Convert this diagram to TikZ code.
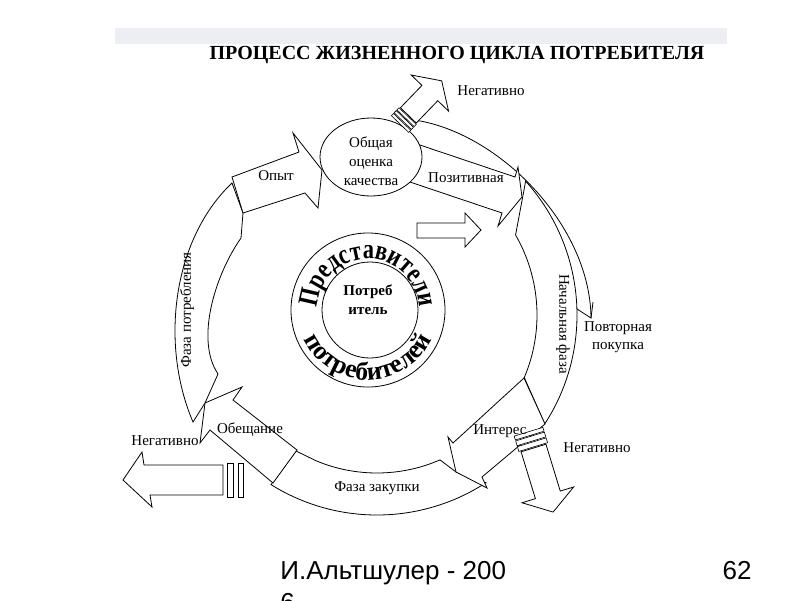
\documentclass[tikz,border=0pt]{standalone}
\usepackage{fontspec}
\setmainfont{Liberation Serif}
\newfontfamily\footfont{Liberation Sans}
\newfontfamily\arcfont[FakeStretch=0.8]{Liberation Serif}
\usetikzlibrary{calc,shapes.geometric,decorations.text}
\definecolor{smear}{RGB}{236,238,244}

\begin{document}
\begin{tikzpicture}[x=1pt,y=-1pt,line width=0.8pt,line join=miter,
  piece/.style={draw,fill=white},
  stripe/.style={draw,fill=white,line width=0.6pt},
  lbl/.style={font=\fontsize{15}{18}\selectfont,inner sep=0pt,align=center}]
\fill[white] (0,0) rectangle (800,600);
\useasboundingbox (0,0) rectangle (800,600);
\fill[smear] (115,28) rectangle (727,44);
\coordinate (cc) at (377,315);

\node[font=\bfseries\fontsize{20}{24}\selectfont,anchor=base,inner sep=0pt] (title) at (457,59) {ПРОЦЕСС ЖИЗНЕННОГО ЦИКЛА ПОТРЕБИТЕЛЯ};

\draw[piece] ($(cc)+(57:200)$) arc[start angle=57,end angle=122,radius=200] -- (296,451)
  -- ($(cc)+(112.5:158)$) arc[start angle=112.5,end angle=66.5,radius=158] -- (456,472) -- cycle;
\draw[piece] ($(cc)+(-42:200)$) arc[start angle=-42,end angle=33,radius=200]
  -- ($(cc)+(23:160)$) arc[start angle=23,end angle=-30,radius=160] -- cycle;
\draw[piece] (193,422) .. controls (160,345) and (172,240) .. (232,183) -- (243,213) -- (241,238)
  .. controls (215,275) and (195,340) .. (218,374) -- (205,403) -- cycle;
\draw (405,119) .. controls (490,125) and (590,220) .. (591,318);
\draw (593,302) -- (591,318) -- (577,309);

\draw[piece] (232,177) -- (299,152) -- (293,133) -- (322,170) -- (318,208) -- (305,193) -- (243,213) -- cycle;
\draw[piece] (405,140) -- (515,177) -- (518,167) -- (522,197) -- (498,226) -- (502,213) -- (398,178) -- cycle;
\draw[piece] (524,378) -- (453,443) -- (448,437) -- (456,472) -- (487,488) -- (482,477) -- (545,424) -- cycle;
\draw[piece] (297,450) -- (233,400) -- (242,387) -- (205,403) -- (200,443) -- (210,430) -- (273,483) -- cycle;
\draw[piece] (417,223) -- (465,223) -- (465,213) -- (481,230) -- (465,247) -- (465,238) -- (417,238) -- cycle;

\node[piece,ellipse,minimum width=102pt,minimum height=78pt,inner sep=0pt] (ocenka) at (371,157) {};
\node[lbl,font=\fontsize{15}{19}\selectfont] (ocenkatxt) at (371,161) {Общая\\оценка\\качества};

\begin{scope}[shift={(400,124)},rotate=46]
\draw[piece] (12,-11) -- (43,-11) -- (43,-26) -- (60,0) -- (43,26) -- (43,11) -- (12,11) -- cycle;
\draw[stripe] (0,-12) rectangle (3,12);
\draw[stripe] (4,-12) rectangle (7,12);
\draw[stripe] (8,-12) rectangle (11,12);
\end{scope}
\begin{scope}[shift={(533.5,448)},rotate=-73]
\draw[piece] (0,-13) -- (49,-13) -- (49,-27) -- (67,0) -- (49,27) -- (49,13) -- (0,13) -- cycle;
\draw[stripe] (-17,-15) rectangle (-13,15);
\draw[stripe] (-12,-15) rectangle (-7,15);
\draw[stripe] (-6,-15) rectangle (-1,15);
\end{scope}
\draw[piece] (223,465) -- (144,465) -- (142,452) -- (123,480) -- (152,507) -- (150,495) -- (223,495) -- cycle;
\draw[stripe] (227,463) rectangle (233,497);
\draw[stripe] (238,463) rectangle (243,497);

\node[draw,circle,minimum size=154pt,inner sep=0pt] (ring) at (368,310) {};
\node[draw,circle,minimum size=96pt,inner sep=0pt] (core) at (370,310) {};
\node[lbl,font=\bfseries\fontsize{15}{19}\selectfont] (coretxt) at (368,300) {Потреб\\итель};
\path[decorate,decoration={text along path,text align=center,
  text={|\arcfont\bfseries\fontsize{28}{28}\selectfont|Представители}}]
  ($(ring.center)+(-176:51)$) arc[start angle=-176,end angle=-4,radius=51];
\path[decorate,decoration={text along path,text align=center,
  text={|\bfseries\fontsize{26}{26}\selectfont|потребителей}}]
  ($(ring.center)+(165:70)$) arc[start angle=165,end angle=15,radius=70];

\node[lbl,anchor=base] (opyt) at (276,180) {Опыт};
\node[lbl,anchor=base] (pozit) at (466,182) {Позитивная};
\node[lbl,anchor=base] (negtop) at (491,95) {Негативно};
\node[lbl] (povtor) at (618,337) {Повторная\\покупка};
\node[lbl,rotate=-90] (nachalo) at (563,324) {Начальная фаза};
\node[lbl,anchor=base] (interes) at (500,434) {Интерес};
\node[lbl,anchor=base] (negright) at (597,452) {Негативно};
\node[lbl,anchor=base] (zakupka) at (377,491) {Фаза закупки};
\node[lbl,anchor=base] (obeshch) at (250,433) {Обещание};
\node[lbl,anchor=base] (negleft) at (165,445) {Негативно};
\node[lbl,rotate=90] (potrebl) at (187,310) {Фаза потребления};

\node[font=\footfont\fontsize{26}{32}\selectfont,anchor=base west,inner sep=0pt] (author) at (280,579) {И.Альтшулер - 200};
\node[font=\footfont\fontsize{26}{32}\selectfont,anchor=base west,inner sep=0pt] (authoryr) at (280,611) {6};
\node[font=\footfont\fontsize{26}{32}\selectfont,anchor=base east,inner sep=0pt] (page) at (752,579) {62};
\end{tikzpicture}
\end{document}
